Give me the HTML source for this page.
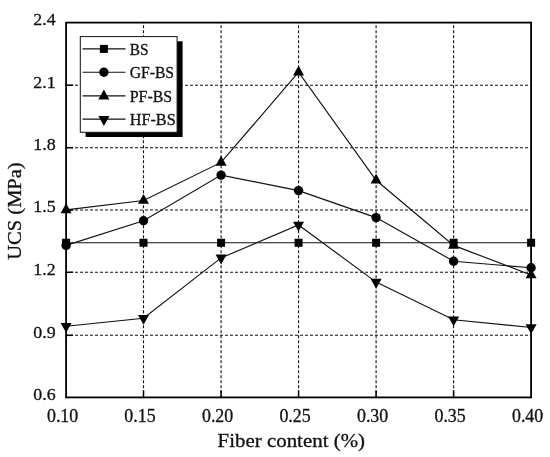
<!DOCTYPE html><html><head><meta charset="utf-8"><title>UCS vs Fiber content</title>
<style>html,body{margin:0;padding:0;background:#fff;overflow:hidden}svg{display:block}text{font-family:"Liberation Serif",serif;fill:#111;stroke:#111;stroke-width:0.3px}</style></head><body>
<svg width="550" height="457" viewBox="0 0 550 457">
<rect width="550" height="457" fill="#fff"/>
<g stroke="#111" stroke-width="1.1" stroke-dasharray="3 2" fill="none">
<line x1="65.0" y1="85.2" x2="531.1" y2="85.2"/>
<line x1="65.0" y1="147.7" x2="531.1" y2="147.7"/>
<line x1="65.0" y1="210.0" x2="531.1" y2="210.0"/>
<line x1="65.0" y1="272.3" x2="531.1" y2="272.3"/>
<line x1="65.0" y1="335.3" x2="531.1" y2="335.3"/>
<line x1="143.5" y1="398.2" x2="143.5" y2="22.6"/>
<line x1="221.1" y1="398.2" x2="221.1" y2="22.6"/>
<line x1="298.55" y1="398.2" x2="298.55" y2="22.6"/>
<line x1="376.1" y1="398.2" x2="376.1" y2="22.6"/>
<line x1="453.6" y1="398.2" x2="453.6" y2="22.6"/>
</g>
<g stroke="#000" stroke-width="1.5">
<line x1="66.1" y1="85.2" x2="73.1" y2="85.2"/>
<line x1="66.1" y1="147.7" x2="73.1" y2="147.7"/>
<line x1="66.1" y1="210.0" x2="73.1" y2="210.0"/>
<line x1="66.1" y1="272.3" x2="73.1" y2="272.3"/>
<line x1="66.1" y1="335.3" x2="73.1" y2="335.3"/>
<line x1="143.5" y1="397.4" x2="143.5" y2="390.4"/>
<line x1="221.1" y1="397.4" x2="221.1" y2="390.4"/>
<line x1="298.55" y1="397.4" x2="298.55" y2="390.4"/>
<line x1="376.1" y1="397.4" x2="376.1" y2="390.4"/>
<line x1="453.6" y1="397.4" x2="453.6" y2="390.4"/>
</g>
<rect x="66.1" y="22.6" width="465.00" height="374.80" fill="none" stroke="#000" stroke-width="1.8"/>
<g stroke="#111" stroke-width="1.15" fill="none">
<polyline points="66.1,242.75 143.5,242.75 221.1,242.75 298.55,242.75 376.1,242.75 453.6,242.75 531.1,242.75"/>
<polyline points="66.1,245.4 143.5,220.8 221.1,175.1 298.55,190.6 376.1,217.6 453.6,261.2 531.1,267.8"/>
<polyline points="66.1,209.9 143.5,200.5 221.1,162.4 298.55,72.2 376.1,180.3 453.6,245.4 531.1,275.0"/>
<polyline points="66.1,326.2 143.5,318.2 221.1,257.9 298.55,225.0 376.1,282.1 453.6,319.7 531.1,327.5"/>
</g>
<g fill="#000">
<rect x="62.10" y="238.75" width="8.0" height="8.0"/>
<rect x="139.50" y="238.75" width="8.0" height="8.0"/>
<rect x="217.10" y="238.75" width="8.0" height="8.0"/>
<rect x="294.55" y="238.75" width="8.0" height="8.0"/>
<rect x="372.10" y="238.75" width="8.0" height="8.0"/>
<rect x="449.60" y="238.75" width="8.0" height="8.0"/>
<rect x="527.10" y="238.75" width="8.0" height="8.0"/>
<circle cx="66.1" cy="245.4" r="4.7"/>
<circle cx="143.5" cy="220.8" r="4.7"/>
<circle cx="221.1" cy="175.1" r="4.7"/>
<circle cx="298.55" cy="190.6" r="4.7"/>
<circle cx="376.1" cy="217.6" r="4.7"/>
<circle cx="453.6" cy="261.2" r="4.7"/>
<circle cx="531.1" cy="267.8" r="4.7"/>
<polygon points="60.60,213.20 71.60,213.20 66.10,203.30"/>
<polygon points="138.00,203.80 149.00,203.80 143.50,193.90"/>
<polygon points="215.60,165.70 226.60,165.70 221.10,155.80"/>
<polygon points="293.05,75.50 304.05,75.50 298.55,65.60"/>
<polygon points="370.60,183.60 381.60,183.60 376.10,173.70"/>
<polygon points="448.10,248.70 459.10,248.70 453.60,238.80"/>
<polygon points="525.60,278.30 536.60,278.30 531.10,268.40"/>
<polygon points="60.60,322.90 71.60,322.90 66.10,332.80"/>
<polygon points="138.00,314.90 149.00,314.90 143.50,324.80"/>
<polygon points="215.60,254.60 226.60,254.60 221.10,264.50"/>
<polygon points="293.05,221.70 304.05,221.70 298.55,231.60"/>
<polygon points="370.60,278.80 381.60,278.80 376.10,288.70"/>
<polygon points="448.10,316.40 459.10,316.40 453.60,326.30"/>
<polygon points="525.60,324.20 536.60,324.20 531.10,334.10"/>
</g>
<rect x="85.6" y="41.3" width="97" height="95.7" fill="#000"/>
<rect x="80.3" y="36.6" width="96.8" height="95.7" fill="#fff" stroke="#111" stroke-width="1"/>
<g stroke="#111" stroke-width="1.15">
<line x1="82.5" y1="48.9" x2="125.5" y2="48.9"/>
<line x1="82.5" y1="72.2" x2="125.5" y2="72.2"/>
<line x1="82.5" y1="95.9" x2="125.5" y2="95.9"/>
<line x1="82.5" y1="119.1" x2="125.5" y2="119.1"/>
</g><g fill="#000">
<rect x="99.90" y="44.90" width="8.0" height="8.0"/>
<circle cx="103.9" cy="72.2" r="4.7"/>
<polygon points="98.40,99.50 109.40,99.50 103.90,89.60"/>
<polygon points="98.40,116.00 109.40,116.00 103.90,125.90"/>
</g>
<text transform="translate(129.70 55.20) scale(0.94 1)" font-size="16.4" text-anchor="start">BS</text>
<text transform="translate(129.70 77.70) scale(0.955 1)" font-size="16.4" text-anchor="start">GF-BS</text>
<text transform="translate(129.70 101.90) scale(0.97 1)" font-size="16.4" text-anchor="start">PF-BS</text>
<text transform="translate(129.70 125.40) scale(0.99 1)" font-size="16.4" text-anchor="start">HF-BS</text>
<text transform="translate(55.60 25.00) scale(1.01 1)" font-size="17.7" text-anchor="end">2.4</text>
<text transform="translate(55.60 87.60) scale(1.01 1)" font-size="17.7" text-anchor="end">2.1</text>
<text transform="translate(55.60 150.10) scale(1.01 1)" font-size="17.7" text-anchor="end">1.8</text>
<text transform="translate(55.60 212.40) scale(1.01 1)" font-size="17.7" text-anchor="end">1.5</text>
<text transform="translate(55.60 274.70) scale(1.01 1)" font-size="17.7" text-anchor="end">1.2</text>
<text transform="translate(55.60 337.70) scale(1.01 1)" font-size="17.7" text-anchor="end">0.9</text>
<text transform="translate(55.60 399.80) scale(1.01 1)" font-size="17.7" text-anchor="end">0.6</text>
<text transform="translate(62.60 421.50) scale(0.995 1)" font-size="18.0" text-anchor="middle">0.10</text>
<text transform="translate(140.00 421.50) scale(0.995 1)" font-size="18.0" text-anchor="middle">0.15</text>
<text transform="translate(217.60 421.50) scale(0.995 1)" font-size="18.0" text-anchor="middle">0.20</text>
<text transform="translate(295.05 421.50) scale(0.995 1)" font-size="18.0" text-anchor="middle">0.25</text>
<text transform="translate(372.60 421.50) scale(0.995 1)" font-size="18.0" text-anchor="middle">0.30</text>
<text transform="translate(450.10 421.50) scale(0.995 1)" font-size="18.0" text-anchor="middle">0.35</text>
<text transform="translate(527.60 421.50) scale(0.995 1)" font-size="18.0" text-anchor="middle">0.40</text>
<text transform="translate(291.30 447.00) scale(1.118 1)" font-size="18.7" text-anchor="middle">Fiber content (%)</text>
<text transform="translate(21.40 211.00) rotate(-90) scale(1.097 1)" font-size="18.7" text-anchor="middle">UCS (MPa)</text>
</svg></body></html>
